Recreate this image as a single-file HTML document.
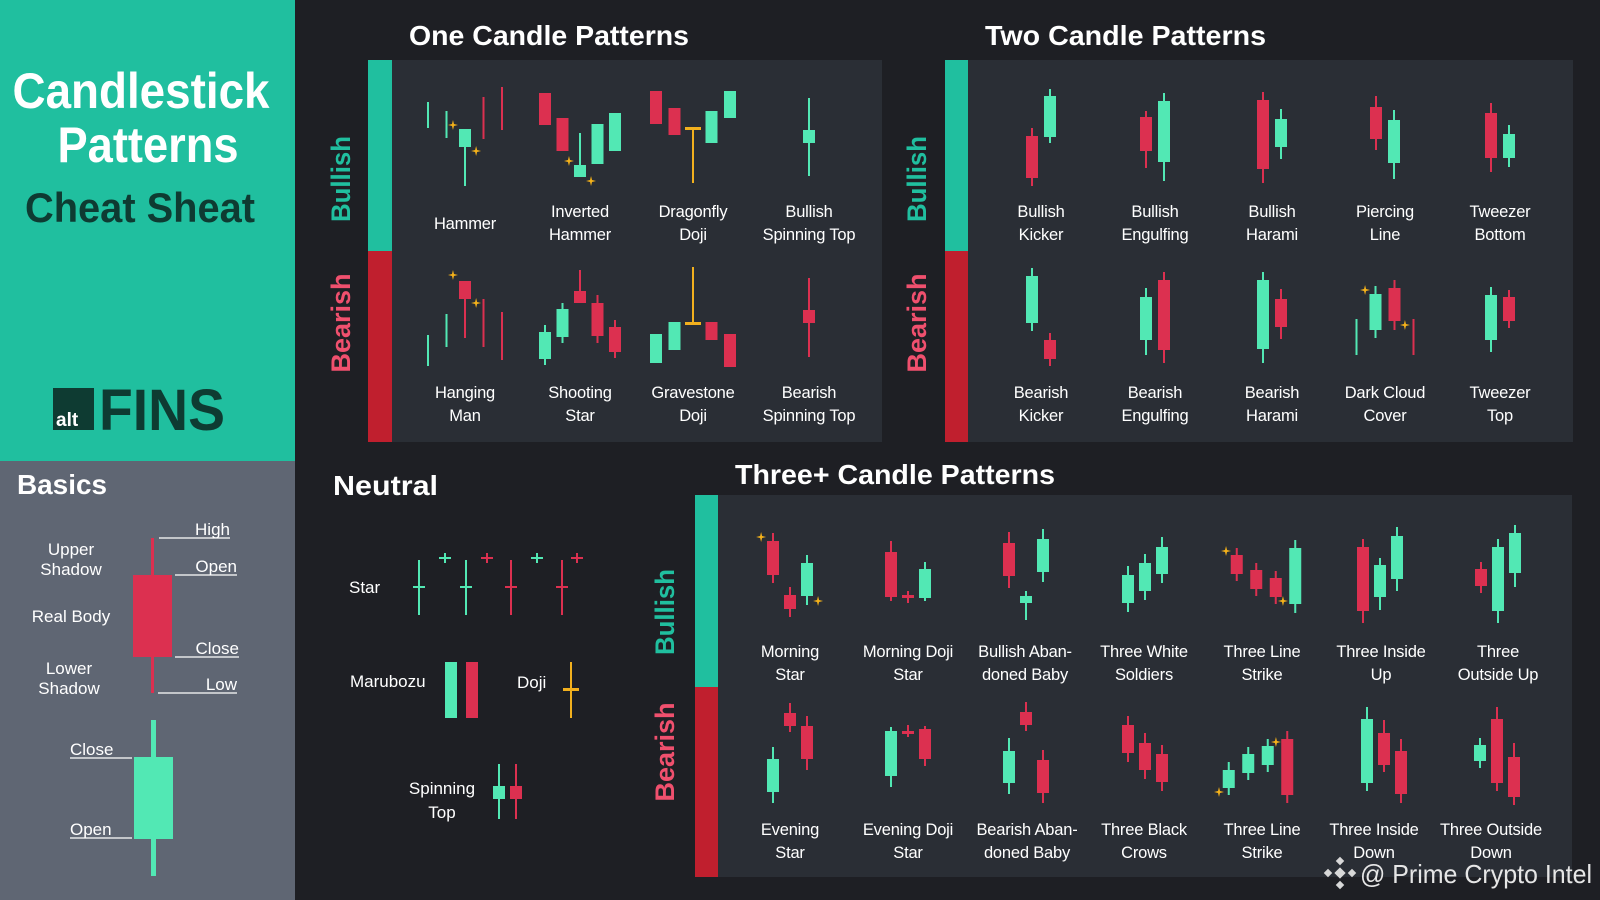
<!DOCTYPE html>
<html><head><meta charset="utf-8"><style>
html,body{margin:0;padding:0;background:#1e1f24;}
svg{display:block;font-family:"Liberation Sans",sans-serif;}
</style></head><body>
<svg id="s" width="1600" height="900" viewBox="0 0 1600 900" xmlns="http://www.w3.org/2000/svg">
<rect x="0" y="0" width="1600" height="900" fill="#1e1f24"/>
<rect x="0" y="0" width="295" height="461" fill="#20bf9f"/>
<text x="141" y="108" text-anchor="middle" font-size="50" font-weight="bold" fill="#fff" textLength="257" lengthAdjust="spacingAndGlyphs">Candlestick</text>
<text x="148" y="162" text-anchor="middle" font-size="50" font-weight="bold" fill="#fff" textLength="181" lengthAdjust="spacingAndGlyphs">Patterns</text>
<text x="140" y="222" text-anchor="middle" font-size="42" font-weight="bold" fill="#0e3b32" textLength="230" lengthAdjust="spacingAndGlyphs">Cheat Sheat</text>
<g>
<rect x="53" y="388" width="41" height="42" fill="#0e3b32"/>
<text x="56" y="426" font-size="19" font-weight="bold" fill="#fff">alt</text>
<text x="99" y="430" font-size="58" font-weight="bold" fill="#0e3b32" textLength="126" lengthAdjust="spacingAndGlyphs">FINS</text>
</g>
<rect x="0" y="461" width="295" height="439" fill="#5f6673"/>
<text x="17" y="494" font-size="28" font-weight="bold" fill="#fff" textLength="90" lengthAdjust="spacingAndGlyphs">Basics</text>
<g fill="#fff" font-size="17" text-anchor="middle">
<text x="71" y="555">Upper</text><text x="71" y="575">Shadow</text>
<text x="71" y="622">Real Body</text>
<text x="69" y="674">Lower</text><text x="69" y="694">Shadow</text>
</g>
<g>
<rect x="151" y="538" width="3" height="155" fill="#dc3050"/>
<rect x="133" y="575" width="39" height="82" fill="#dc3050"/>
</g>
<g stroke="#fff" stroke-width="1.2">
<line x1="159" y1="538" x2="230" y2="538"/><line x1="175" y1="575" x2="237" y2="575"/>
<line x1="175" y1="657" x2="239" y2="657"/><line x1="158" y1="693" x2="237" y2="693"/>
<line x1="70" y1="758" x2="132" y2="758"/><line x1="70" y1="838" x2="132" y2="838"/>
</g>
<g fill="#fff" font-size="17" text-anchor="end">
<text x="230" y="535">High</text><text x="237" y="572">Open</text>
<text x="239" y="654">Close</text><text x="237" y="690">Low</text>
</g>
<g fill="#fff" font-size="17">
<text x="70" y="755">Close</text><text x="70" y="835">Open</text>
</g>
<g>
<rect x="151" y="720" width="5" height="156" fill="#52e8b4"/>
<rect x="134" y="757" width="39" height="82" fill="#52e8b4"/>
</g>
<rect x="368" y="60" width="514" height="382" fill="#2a2e35"/>
<rect x="368" y="60" width="24" height="191" fill="#20bf9f"/>
<rect x="368" y="251" width="24" height="191" fill="#c01f2e"/>
<rect x="945" y="60" width="628" height="382" fill="#2a2e35"/>
<rect x="945" y="60" width="23" height="191" fill="#20bf9f"/>
<rect x="945" y="251" width="23" height="191" fill="#c01f2e"/>
<rect x="695" y="495" width="877" height="382" fill="#2a2e35"/>
<rect x="695" y="495" width="23" height="192" fill="#20bf9f"/>
<rect x="695" y="687" width="23" height="190" fill="#c01f2e"/>
<g font-weight="bold" fill="#fff" font-size="28">
<text x="409" y="45" textLength="280" lengthAdjust="spacingAndGlyphs">One Candle Patterns</text>
<text x="985" y="45" textLength="281" lengthAdjust="spacingAndGlyphs">Two Candle Patterns</text>
<text x="735" y="484" textLength="320" lengthAdjust="spacingAndGlyphs">Three+ Candle Patterns</text>
<text x="333" y="495" textLength="105" lengthAdjust="spacingAndGlyphs">Neutral</text>
</g>
<g font-weight="bold" font-size="27">
<text transform="translate(350,179) rotate(-90)" text-anchor="middle" fill="#20bf9f" textLength="86" lengthAdjust="spacingAndGlyphs">Bullish</text>
<text transform="translate(350,323) rotate(-90)" text-anchor="middle" fill="#f0506e" textLength="99" lengthAdjust="spacingAndGlyphs">Bearish</text>
<text transform="translate(926,179) rotate(-90)" text-anchor="middle" fill="#20bf9f" textLength="86" lengthAdjust="spacingAndGlyphs">Bullish</text>
<text transform="translate(926,323) rotate(-90)" text-anchor="middle" fill="#f0506e" textLength="99" lengthAdjust="spacingAndGlyphs">Bearish</text>
<text transform="translate(674,612) rotate(-90)" text-anchor="middle" fill="#20bf9f" textLength="86" lengthAdjust="spacingAndGlyphs">Bullish</text>
<text transform="translate(674,752) rotate(-90)" text-anchor="middle" fill="#f0506e" textLength="99" lengthAdjust="spacingAndGlyphs">Bearish</text>
</g>
<g fill="#fff" font-size="17">
<text x="349" y="593">Star</text>
<text x="350" y="687">Marubozu</text>
<text x="517" y="688">Doji</text>
<text x="442" y="794" text-anchor="middle">Spinning</text>
<text x="442" y="818" text-anchor="middle">Top</text>
</g>
<g id="marks"></g>
<g>
<g fill="#d8d8d8" transform="translate(1340,873)">
<rect x="-4" y="-4" width="8" height="8" transform="rotate(45)"/>
<rect x="-3" y="-15" width="6" height="6" transform="rotate(45 0 -12)"/>
<rect x="-3" y="9" width="6" height="6" transform="rotate(45 0 12)"/>
<rect x="-15" y="-3" width="6" height="6" transform="rotate(45 -12 0)"/>
<rect x="9" y="-3" width="6" height="6" transform="rotate(45 12 0)"/>
</g>
<text x="1360" y="883" font-size="26" fill="#e6e6e6" textLength="232" lengthAdjust="spacingAndGlyphs">@ Prime Crypto Intel</text>
</g>
</svg>
<script>
const oneBullNames = ["Hammer", "Inverted|Hammer", "Dragonfly|Doji", "Bullish|Spinning Top"];
const oneBullData = [
  [[80,80,98,72,"lg"],[75,75,89,62,"lg"],[53,71,71,14,"u"],[80,80,103,61,"lr"],[90,90,113,70,"lr"]],
  [[107,75,107,75,"d"],[82,49,82,49,"d"],[23,35,67,23,"u"],[36,76,76,36,"u"],[49,87,87,49,"u"]],
  [[109,76,109,76,"d"],[92,65,92,65,"d"],[72,72,72,17,"y"],[57,89,89,57,"u"],[82,109,109,82,"u"]],
  [[57,70,102,24,"u"]]
];
const oneBullStars = [[[1.35,75],[2.6,49]],[[1.37,39],[2.63,19]],[],[]];
const oneBearNames = ["Hanging|Man", "Shooting|Star", "Gravestone|Doji", "Bearish|Spinning Top"];
const oneBearData = [
  [[30,30,45,14,"lg"],[50,50,66,33,"lg"],[99,81,99,42,"d"],[60,60,81,33,"lr"],[50,50,68,20,"lr"]],
  [[21,48,55,15,"u"],[43,71,77,37,"u"],[89,77,110,77,"d"],[77,44,85,37,"d"],[53,28,60,22,"d"]],
  [[17,46,46,17,"u"],[30,58,58,30,"u"],[57,57,113,57,"y"],[58,40,58,40,"d"],[46,13,46,13,"d"]],
  [[70,57,102,23,"d"]]
];
const oneBearStars = [[[1.35,105],[2.6,77]],[],[],[]];
const twoBullNames = ["Bullish|Kicker","Bullish|Engulfing","Bullish|Harami","Piercing|Line","Tweezer|Bottom"];
const twoBullData = [
  [[64,22,72,14,"d"],[63,104,111,57,"u"]],
  [[83,49,89,32,"d"],[38,99,107,19,"u"]],
  [[100,31,108,17,"d"],[53,81,91,41,"u"]],
  [[93,61,104,50,"d"],[37,80,90,21,"u"]],
  [[87,42,97,28,"d"],[42,66,75,33,"u"]]
];
const twoBearNames = ["Bearish|Kicker","Bearish|Engulfing","Bearish|Harami","Dark Cloud|Cover","Tweezer|Top"];
const twoBearData = [
  [[57,104,112,49,"u"],[40,21,47,14,"d"]],
  [[40,83,92,25,"u"],[100,30,108,17,"d"]],
  [[31,100,108,17,"u"],[81,53,91,41,"d"]],
  [[40,40,61,25,"lg"],[50,86,94,42,"u"],[92,59,100,50,"d"],[40,40,61,25,"lr"]],
  [[40,85,93,28,"u"],[83,59,90,52,"d"]]
];
const twoBearStars = [[],[],[],[[0.45,90],[2.55,55]],[]];
const threeBullNames = ["Morning|Star","Morning Doji|Star","Bullish Aban-|doned Baby","Three White|Soldiers","Three Line|Strike","Three Inside|Up","Three|Outside Up"];
const threeBullData = [
  [[89,55,97,47,"d"],[35,21,43,13,"d"],[34,67,75,25,"u"]],
  [[78,33,89,29,"d"],[34,34,39,27,"p"],[32,61,68,29,"u"]],
  [[87,54,98,42,"d"],[27,34,39,10,"u"],[58,91,101,48,"u"]],
  [[27,55,64,18,"u"],[39,67,76,30,"u"],[56,83,93,47,"u"]],
  [[75,56,82,49,"d"],[60,41,67,34,"d"],[52,33,59,26,"d"],[26,82,90,17,"u"]],
  [[83,19,91,7,"d"],[33,65,72,20,"u"],[51,94,103,39,"u"]],
  [[61,44,68,37,"d"],[19,83,91,7,"u"],[57,97,105,43,"u"]]
];
const threeBullStars = [[[-0.7,93],[2.65,29]],[],[],[],[[-0.55,79],[2.37,29]],[],[]];
const threeBearNames = ["Evening|Star","Evening Doji|Star","Bearish Aban-|doned Baby","Three Black|Crows","Three Line|Strike","Three Inside|Down","Three Outside|Down"];
const threeBearData = [
  [[18,51,63,7,"u"],[97,84,107,78,"d"],[84,51,94,40,"d"]],
  [[34,79,83,23,"u"],[78,78,85,73,"p"],[81,51,84,44,"d"]],
  [[27,59,72,16,"u"],[98,85,108,79,"d"],[50,17,60,7,"d"]],
  [[85,57,94,48,"d"],[67,40,77,31,"d"],[56,28,65,19,"d"]],
  [[22,40,48,15,"u"],[37,56,63,30,"u"],[45,64,71,38,"u"],[71,15,79,7,"d"]],
  [[27,91,103,19,"u"],[77,45,90,38,"d"],[59,16,71,7,"d"]],
  [[49,65,72,42,"u"],[91,27,103,19,"d"],[53,13,67,5,"d"]]
];
const threeBearStars = [[],[],[],[],[[-0.5,18],[2.42,68]],[],[]];

const COL = {u:"#52e8b4", d:"#dc3050", lg:"#52e8b4", lr:"#dc3050", y:"#f2b01e", p:"#dc3050"};
const NS = "http://www.w3.org/2000/svg";
const marks = document.getElementById("marks");
function mk(tag, attrs, parent){
  const e = document.createElementNS(NS, tag);
  for (const k in attrs) e.setAttribute(k, attrs[k]);
  parent.appendChild(e);
  return e;
}
function yScale(base, v){ return base - v; }

function drawCandle(g, cx, base, d){
  const [o,c,h,l,t] = d;
  const col = COL[t];
  const w = mk("rect", {x: cx-1, y: yScale(base,h), width: 2, height: Math.max(1, yScale(base,l)-yScale(base,h)), fill: col}, g);
  
  
  if (t === "u" || t === "d"){
    const top = yScale(base, Math.max(o,c));
    const b = mk("rect", {x: cx-6, y: top, width: 12, height: Math.max(2, Math.abs(o-c)), fill: col}, g);
    
    
  } else if (t === "y" || t === "p"){
    const hw = t === "y" ? 8 : 6;
    const b = mk("rect", {x: cx-hw, y: yScale(base,o)-1, width: hw*2, height: 3, fill: col}, g);
    
    
  }
}
function drawStar(g, x, y){
  const s = mk("path", {d: `M${x} ${y-5} L${x+1} ${y-1} L${x+5} ${y} L${x+1} ${y+1} L${x} ${y+5} L${x-1} ${y+1} L${x-5} ${y} L${x-1} ${y-1} Z`, fill: "#f5b21a"}, g);
  
  
}
function drawGroup(names, data, stars, centers, base, spacing, labelY, labelX){
  names.forEach((name, i) => {
    const g = mk("g", {}, marks);
    
    
    const cands = data[i];
    const n = cands.length;
    const sp = spacing[i];
    cands.forEach((d, j) => drawCandle(g, centers[i] + (j - (n-1)/2) * sp, base, d));
    (stars ? stars[i] : []).forEach(s => drawStar(g, centers[i] + (s[0] - (n-1)/2) * sp, yScale(base, s[1])));
    const lines = name.split("|");
    const lx = labelX ? labelX[i] : centers[i];
    lines.forEach((ln, k) => {
      const yy = lines.length === 1 ? labelY + 12 : labelY + k*23;
      const t = mk("text", {x: lx, y: yy, "text-anchor": "middle", "font-size": 16.5, "letter-spacing": "-0.2", fill: "#fff"}, g);
      
      
      t.textContent = ln;
    });
  });
}
drawGroup(oneBullNames, oneBullData, oneBullStars, [465,580,693,809], 200, [18.5,17.5,18.5,0], 217);
drawGroup(oneBearNames, oneBearData, oneBearStars, [465,580,693,809], 380, [18.5,17.5,18.5,0], 398);
drawGroup(twoBullNames, twoBullData, null, [1041,1155,1272,1385,1500], 200, [18,18,18,18,18], 217);
drawGroup(twoBearNames, twoBearData, twoBearStars, [1041,1155,1272,1385,1500], 380, [18,18,18,19,18], 398);
drawGroup(threeBullNames, threeBullData, threeBullStars, [790,908,1026,1145,1266,1380,1498], 630, [17,17,17,17,19.5,17,17], 657, [790,908,1025,1144,1262,1381,1498]);
drawGroup(threeBearNames, threeBearData, threeBearStars, [790,908,1026,1145,1258,1384,1497], 810, [17,17,17,17,19.5,17,17], 835, [790,908,1027,1144,1262,1374,1491]);

const neutralStar = [[28,28,55,0,"lg"],[28,28,55,0,"lg"],[28,28,55,0,"lr"],[28,28,55,0,"lr"]];
const neutralStarPlus = [[57,57,62,52,"lg"],[57,57,62,52,"lr"],[57,57,62,52,"lg"],[57,57,62,52,"lr"]];
const neutralMarubozu = [[0,56,56,0,"u"],[56,0,56,0,"d"]];
const neutralDoji = [[29,29,56,0,"y"]];
const neutralSpin = [[20,33,55,0,"u"],[33,20,55,0,"d"]];
const ng = mk("g", {}, marks);


function drawPlusCandle(cx, base, d){
  drawCandle(ng, cx, base, d);
  const b = mk("rect", {x: cx-6, y: yScale(base,d[0])-1, width: 12, height: 2, fill: COL[d[4]]}, ng);
  
  
}
[419,466,511,562].forEach((x,i) => drawPlusCandle(x, 615, neutralStar[i]));
[445,487,537,577].forEach((x,i) => drawPlusCandle(x, 615, neutralStarPlus[i]));
function drawWide(cx, base, d){
  const [o,c,h,l,t] = d;
  const b = mk("rect", {x: cx-6, y: yScale(base,Math.max(o,c)), width: 12, height: Math.abs(o-c), fill: COL[t]}, ng);
  
  
}
[451,472].forEach((x,i) => drawWide(x, 718, neutralMarubozu[i]));
drawCandle(ng, 571, 718, neutralDoji[0]);
[499,516].forEach((x,i) => drawCandle(ng, x, 819, neutralSpin[i]));
</script>
</body></html>
